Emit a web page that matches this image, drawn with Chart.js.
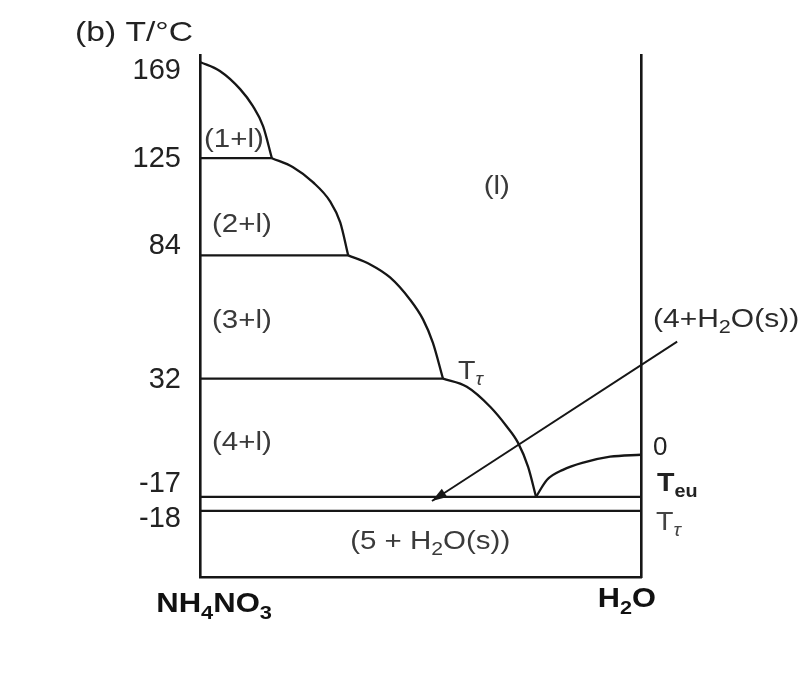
<!DOCTYPE html>
<html>
<head>
<meta charset="utf-8">
<script src="https://cdn.jsdelivr.net/npm/chart.js@4/dist/chart.umd.min.js"></script>
<style>
  html, body { margin: 0; padding: 0; background: #fff; }
  #wrap { width: 808px; height: 681px; }
</style>
</head>
<body>
<div id="wrap"><canvas id="phaseChart" width="808" height="681"></canvas></div>
<script>
// phase diagram NH4NO3 - H2O, panel (b)
// x = fraction of H2O (0 = NH4NO3, 1 = H2O), y = T in °C

const curve1X = [0, 0.045, 0.091, 0.120, 0.143, 0.163];
const curve1T = [169, 164.9, 156.6, 148.8, 139.7, 125];

const curve2X = [0.163, 0.211, 0.256, 0.295, 0.318, 0.336];
const curve2T = [125, 121.2, 114.9, 106.8, 97.9, 84];

const curve3X = [0.336, 0.386, 0.431, 0.476, 0.506, 0.528, 0.551];
const curve3T = [84, 80.2, 74.7, 65.4, 56.9, 47.2, 32];

const curve4X = [0.551, 0.605, 0.658, 0.696, 0.721, 0.744, 0.762];
const curve4T = [32, 28.6, 20.2, 11.8, 5.1, -4.9, -17];

const iceX = [0.762, 0.787, 0.823, 0.869, 0.930, 1];
const iceT = [-17, -10.1, -6.1, -3.2, -0.8, 0];

// transition lines: temperature and where they end on the x axis
const tieT = [125, 84, 32, -17, -18];
const tieEndX = [0.163, 0.336, 0.551, 1, 1];

const arrowX = [1.082, 0.526];
const arrowT = [47.6, -17.3];

const tickTemps = [169, 125, 84, 32, -17, -18];
const tickText = ['169', '125', '84', '32', '-17', '-18'];

const regionText = ['(1+l)', '(2+l)', '(3+l)', '(4+l)', '(l)', '(5 + H_{2}O(s))'];
const regionX = [0.077, 0.095, 0.095, 0.095, 0.673, 0.522];
const regionT = [133.3, 96.7, 56.1, 5.1, 112.7, -23.6];

const FONT = '"Liberation Sans", Arial, Helvetica, sans-serif';
const INK = '#161616';

// y axis of the drawing is not linear: -17 and -18 are pulled apart
const yKnotT = [-30, -18, -17, 0, 32, 84, 125, 169, 172];
const yKnotF = [0, 0.1267, 0.1536, 0.2342, 0.3800, 0.6161, 0.8023, 0.9866, 1];

class BrokenScale extends Chart.LinearScale {
    static id = 'broken';
    static defaults = Chart.LinearScale.defaults;

    getPixelForValue(value) {
        let d = value <= yKnotT[0] ? 0 : 1;
        for (let i = 1; i < yKnotT.length; i++) {
            if (value >= yKnotT[i - 1] && value <= yKnotT[i]) {
                const r = (value - yKnotT[i - 1]) / (yKnotT[i] - yKnotT[i - 1]);
                d = yKnotF[i - 1] + r * (yKnotF[i] - yKnotF[i - 1]);
                break;
            }
        }
        return this.getPixelForDecimal(d);
    }

    getValueForPixel(pixel) {
        const d = this.getDecimalForPixel(pixel);
        for (let i = 1; i < yKnotF.length; i++) {
            if (d <= yKnotF[i]) {
                const r = (d - yKnotF[i - 1]) / (yKnotF[i] - yKnotF[i - 1]);
                return yKnotT[i - 1] + r * (yKnotT[i] - yKnotT[i - 1]);
            }
        }
        return yKnotT[yKnotT.length - 1];
    }
}
Chart.register(BrokenScale);

function pts(xs, ys) {
    return xs.map((x, i) => ({ x: x, y: ys[i] }));
}

function lineSet(data, extra) {
    return Object.assign({
        data: data,
        showLine: true,
        borderColor: INK,
        borderWidth: 2.3,
        pointRadius: 0,
        fill: false
    }, extra || {});
}

// text with _{...} subscripts, sx = horizontal stretch; τ is set in italic
function drawRich(ctx, text, x, y, size, align, weight, color, sx) {
    sx = sx || 1;
    const parts = [];
    text.split(/(_\{[^}]*\})/).forEach(p => {
        if (!p) return;
        if (p.startsWith('_{')) parts.push({ t: p.slice(2, -1), sub: true });
        else parts.push({ t: p, sub: false });
    });
    const subSize = Math.round(size * 0.7);
    const fontOf = p => `${p.t === 'τ' ? 'italic ' : ''}${weight} ${p.sub ? subSize : size}px ${FONT}`;
    let total = 0;
    parts.forEach(p => {
        ctx.font = fontOf(p);
        p.w = ctx.measureText(p.t).width;
        total += p.w;
    });
    const start = align === 'center' ? x - total * sx / 2 : (align === 'right' ? x - total * sx : x);
    ctx.save();
    ctx.translate(start, y);
    ctx.scale(sx, 1);
    ctx.textAlign = 'left';
    ctx.textBaseline = 'middle';
    ctx.fillStyle = color;
    let cx = 0;
    parts.forEach(p => {
        ctx.font = fontOf(p);
        ctx.fillText(p.t, cx, p.sub ? size * 0.32 : 0);
        cx += p.w;
    });
    ctx.restore();
}

const labelsPlugin = {
    id: 'phaseLabels',
    afterDatasetsDraw(chart) {
        const ctx = chart.ctx;
        const xs = chart.scales.x;
        const ys = chart.scales.y;
        const area = chart.chartArea;
        ctx.save();

        // arrow head
        const x0 = xs.getPixelForValue(arrowX[0]), y0 = ys.getPixelForValue(arrowT[0]);
        const x1 = xs.getPixelForValue(arrowX[1]), y1 = ys.getPixelForValue(arrowT[1]);
        const ang = Math.atan2(y1 - y0, x1 - x0);
        ctx.translate(x1, y1);
        ctx.rotate(ang);
        ctx.beginPath();
        ctx.moveTo(0, 0);
        ctx.lineTo(-15, -5);
        ctx.lineTo(-15, 5);
        ctx.closePath();
        ctx.fillStyle = INK;
        ctx.fill();
        ctx.setTransform(1, 0, 0, 1, 0, 0);

        // title
        drawRich(ctx, '(b) T/°C', area.left - 125, ys.getPixelForValue(169) - 29, 28, 'left', 'normal', '#222', 1.2);

        // tick labels
        const tickShift = [9, 1, -9, 1, -13, 8];
        tickTemps.forEach((t, i) => {
            drawRich(ctx, tickText[i], area.left - 19, ys.getPixelForValue(t) + tickShift[i], 29, 'right', 'normal', '#222');
        });

        // region labels
        regionText.forEach((s, i) => {
            drawRich(ctx, s, xs.getPixelForValue(regionX[i]), ys.getPixelForValue(regionT[i]), 25, 'center', 'normal', '#3a3a3a', 1.18);
        });

        drawRich(ctx, 'T_{τ}', xs.getPixelForValue(0.585), ys.getPixelForValue(35), 26, 'left', 'normal', '#3a3a3a', 1.1);
        drawRich(ctx, '(4+H_{2}O(s))', area.right + 12, ys.getPixelForValue(47.7) - 21, 25, 'left', 'normal', '#2a2a2a', 1.2);

        // right side labels
        drawRich(ctx, '0', area.right + 12, ys.getPixelForValue(0) - 7, 26, 'left', 'normal', '#222');
        drawRich(ctx, 'T_{eu}', area.right + 16, ys.getPixelForValue(-17) - 13, 26, 'left', 'bold', '#222', 1.1);
        drawRich(ctx, 'T_{τ}', area.right + 15, ys.getPixelForValue(-18) + 12, 26, 'left', 'normal', '#444', 1.1);

        // components under the axis
        drawRich(ctx, 'NH_{4}NO_{3}', xs.getPixelForValue(0.032), area.bottom + 28, 27, 'center', 'bold', '#111', 1.15);
        drawRich(ctx, 'H_{2}O', xs.getPixelForValue(0.968), area.bottom + 23, 27, 'center', 'bold', '#111', 1.14);

        ctx.restore();
    }
};

function initChart() {
    const ctx = document.getElementById('phaseChart').getContext('2d');
    const datasets = [
        lineSet(pts(curve1X, curve1T), { cubicInterpolationMode: 'monotone' }),
        lineSet(pts(curve2X, curve2T), { cubicInterpolationMode: 'monotone' }),
        lineSet(pts(curve3X, curve3T), { cubicInterpolationMode: 'monotone' }),
        lineSet(pts(curve4X, curve4T), { cubicInterpolationMode: 'monotone' }),
        lineSet(pts(iceX, iceT), { cubicInterpolationMode: 'monotone' })
    ];
    tieT.forEach((t, i) => {
        datasets.push(lineSet(pts([0, tieEndX[i]], [t, t])));
    });
    datasets.push(lineSet(pts(arrowX, arrowT), { clip: false, borderWidth: 1.9 }));

    const axisBorder = { display: true, color: INK, width: 2.6 };
    const noGrid = { display: false, drawTicks: false, tickLength: 0 };
    new Chart(ctx, {
        type: 'scatter',
        data: { datasets: datasets },
        plugins: [labelsPlugin],
        options: {
            responsive: false,
            animation: false,
            layout: { padding: { left: 200, right: 167, top: 55, bottom: 104 } },
            plugins: {
                legend: { display: false },
                tooltip: { enabled: false }
            },
            scales: {
                x: {
                    type: 'linear', min: 0, max: 1,
                    grid: noGrid,
                    ticks: { display: false },
                    border: axisBorder
                },
                y: {
                    type: 'broken', min: -30, max: 172,
                    position: 'left',
                    grid: noGrid,
                    ticks: { display: false },
                    border: axisBorder
                },
                yRight: {
                    type: 'linear', min: -30, max: 172,
                    position: 'right',
                    grid: noGrid,
                    ticks: { display: false },
                    border: axisBorder
                }
            }
        }
    });
}

document.addEventListener('DOMContentLoaded', initChart);
</script>
</body>
</html>
